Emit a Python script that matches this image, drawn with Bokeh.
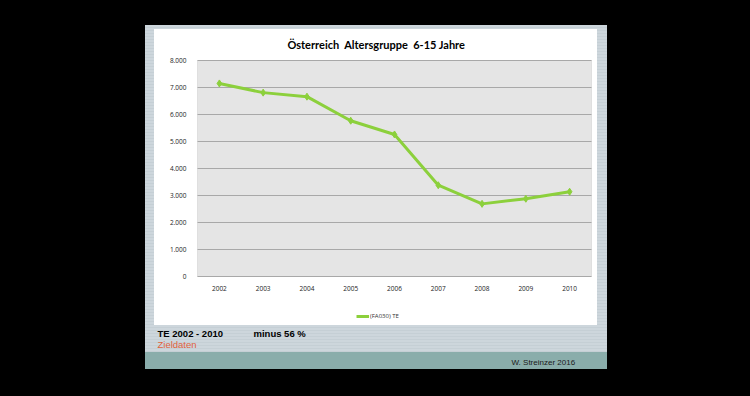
from bokeh.plotting import figure
from bokeh.models import (Range1d, FixedTicker, Label, BoxAnnotation,
                          Legend, LegendItem, InlineStyleSheet)
from bokeh.embed import file_html
from bokeh.resources import INLINE

# ---- data ----
years = [2002, 2003, 2004, 2005, 2006, 2007, 2008, 2009, 2010]
year_labels = ["2002", "2003", "2004", "2005", "2006", "2007", "2008", "2009", "2010"]
te_values = [7150, 6810, 6660, 5770, 5260, 3380, 2690, 2880, 3140]
series_name = "(FA030) TE"
y_ticks = [0, 1000, 2000, 3000, 4000, 5000, 6000, 7000, 8000]
y_tick_labels = ["0", "1.000", "2.000", "3.000", "4.000", "5.000", "6.000", "7.000", "8.000"]
title_text = "Österreich\u00a0 Altersgruppe\u00a0 6-15 Jahre"
note_left = "TE 2002 - 2010"
note_right = "minus 56 %"
note_sub = "Zieldaten"
credit = "W. Streinzer 2016"

# ---- layout (page pixels) ----
W, H = 750, 396
FRAME_L, FRAME_B = 38, 376             # frame covers x 38..750, y 0..376
PLOT_L, PLOT_R, PLOT_T, PLOT_B = 197, 591, 60, 276
Y_MAX = y_ticks[-1]
px_year = (PLOT_R - PLOT_L) / len(years)
px_val = (PLOT_B - PLOT_T) / Y_MAX
x_lo = years[0] - 0.5 - (PLOT_L - FRAME_L) / px_year
x_hi = years[-1] + 0.5 + (W - PLOT_R) / px_year
y_lo = -(FRAME_B - PLOT_B) / px_val
y_hi = Y_MAX + PLOT_T / px_val

slide_css = """
:host {
  background:
    linear-gradient(#ffffff, #ffffff) 154px 29px / 443px 296px no-repeat,
    linear-gradient(#8aadab, #8aadab) 145px 352px / 462px 17px no-repeat,
    repeating-linear-gradient(#cdd6dc 0px, #cdd6dc 2px, #c5cfd5 2px, #c5cfd5 3px) 145px 25px / 462px 344px no-repeat,
    #000000;
}
"""

p = figure(x_range=Range1d(x_lo, x_hi), y_range=Range1d(y_lo, y_hi),
           frame_width=W - FRAME_L, frame_height=FRAME_B,
           min_border_left=FRAME_L, min_border_right=0, min_border_top=0,
           min_border_bottom=H - FRAME_B,
           output_backend="svg", toolbar_location=None,
           border_fill_color=None, background_fill_color=None,
           outline_line_color=None,
           stylesheets=[InlineStyleSheet(css=slide_css)])

p.xgrid.visible = False
p.ygrid.visible = False

# plot area
x_left, x_right = years[0] - 0.5, years[-1] + 0.5
p.add_layout(BoxAnnotation(left=x_left, right=x_right, bottom=0, top=Y_MAX,
                           fill_color="#e5e5e5", fill_alpha=1,
                           line_color="#b4b4b4", line_width=1, level="underlay"))
p.segment(x0=[x_left] * len(y_ticks), x1=[x_right] * len(y_ticks),
          y0=y_ticks, y1=y_ticks, line_color="#a8a8a8", line_width=1)

# axes, fixed to the plot area edges
p.yaxis.fixed_location = x_left
p.xaxis.fixed_location = 0
p.yaxis.ticker = FixedTicker(ticks=y_ticks)
p.yaxis.major_label_overrides = {t: l for t, l in zip(y_ticks, y_tick_labels)}
p.xaxis.ticker = FixedTicker(ticks=years)
p.xaxis.major_label_overrides = {y: l for y, l in zip(years, year_labels)}
for ax in (p.xaxis[0], p.yaxis[0]):
    ax.axis_line_color = None
    ax.major_tick_line_color = None
    ax.minor_tick_line_color = None
    ax.major_label_text_font = "Open Sans"
    ax.major_label_text_font_size = "6.5px"
    ax.major_label_text_color = "#222222"
p.yaxis.major_label_standoff = 5
p.xaxis.major_label_standoff = 3

green = "#8cd03c"
r_line = p.line(years, te_values, line_color=green, line_width=3)
r_pts = p.scatter(years, te_values, marker="diamond", size=7, color=green)

legend = Legend(items=[LegendItem(label=series_name, renderers=[r_line, r_pts])],
                location=(356 - FRAME_L, FRAME_B - 320), orientation="horizontal",
                label_text_font="Open Sans", label_text_font_size="6px",
                label_text_color="#333333", glyph_width=13, glyph_height=6,
                label_standoff=1, padding=0, margin=0,
                background_fill_alpha=0, border_line_color=None)
p.add_layout(legend, "center")

def slabel(x, y, text, size, color="#000000", style="normal",
           font="Liberation Sans", align="left", baseline="alphabetic"):
    # x, y: page pixels (top-left origin) -> frame-relative screen units
    return Label(x=x - FRAME_L, y=FRAME_B - y, x_units="screen", y_units="screen",
                 text=text, text_font=font, text_font_size=size,
                 text_font_style=style, text_color=color,
                 text_align=align, text_baseline=baseline)

p.add_layout(slabel(376, 44, title_text, "11px", style="bold", font="Lato", align="center"))
p.add_layout(slabel(157, 333, note_left, "9.5px", style="bold"))
p.add_layout(slabel(253, 333, note_right, "9.5px", style="bold"))
p.add_layout(slabel(157, 344, note_sub, "9.5px", color="#e0623c"))
p.add_layout(slabel(511, 362, credit, "8px", color="#1a1a1a"))

open("out.html", "w").write(file_html(p, INLINE))
